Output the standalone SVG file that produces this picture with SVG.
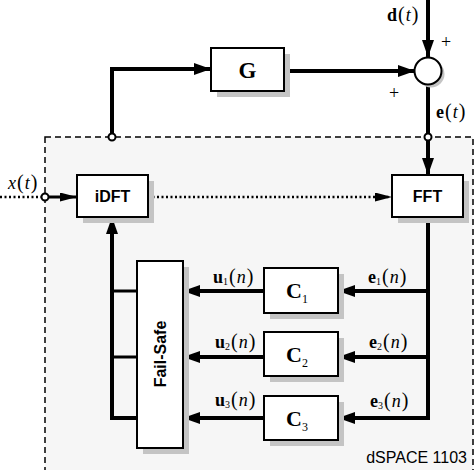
<svg xmlns="http://www.w3.org/2000/svg" width="474" height="470" viewBox="0 0 474 470">
<style>
.box{fill:#fff;stroke:#000;stroke-width:2}
.sh{fill:#c4c4c4}
.w{stroke:#000;stroke-width:4;fill:none}
.dot{stroke:#000;stroke-width:2.5;fill:none;stroke-dasharray:2,2.5}
.jn{fill:#fff;stroke:#000;stroke-width:2}
.m{font-family:"Liberation Serif",serif;font-size:18px}
.p{font-size:20px}
.b{font-weight:bold}
.i{font-style:italic}
.sub{font-size:10px}
.s{font-family:"Liberation Sans",Arial,sans-serif;font-weight:bold;font-size:16px}
</style>
<defs>
<marker id="a" viewBox="0 0 17 12" refX="17" refY="6" markerWidth="17" markerHeight="12" markerUnits="userSpaceOnUse" orient="auto"><path d="M0,0L17,6L0,12z" fill="#000"/></marker>
<marker id="t" viewBox="0 0 17 9" refX="17" refY="4.5" markerWidth="17" markerHeight="9" markerUnits="userSpaceOnUse" orient="auto"><path d="M0,0L17,4.5L0,9z" fill="#000"/></marker>
</defs>
<rect x="45" y="137" width="428" height="340" fill="#f6f6f6" stroke="#000" stroke-width="1.5" stroke-dasharray="6,4"/>
<g id="connectors">
<path class="w" d="M428,0V57" marker-end="url(#a)"/>
<path class="w" d="M284,71H415" marker-end="url(#a)"/>
<path class="w" d="M112,137V69H211" marker-end="url(#a)"/>
<path class="w" d="M428,84V175" marker-end="url(#a)"/>
<path class="dot" d="M0,197H45"/>
<path class="w" style="stroke-width:3" d="M48,197H77" marker-end="url(#t)"/>
<path class="dot" d="M148,197H392" marker-end="url(#t)"/>
<path class="w" d="M428,217V418H338" marker-end="url(#a)"/>
<path class="w" d="M428,291H338" marker-end="url(#a)"/>
<path class="w" d="M428,357H338" marker-end="url(#a)"/>
<path class="w" d="M264,291H183" marker-end="url(#a)"/>
<path class="w" d="M264,357H183" marker-end="url(#a)"/>
<path class="w" d="M264,418H183" marker-end="url(#a)"/>
<path class="w" d="M137,418H112V217" marker-end="url(#a)"/>
<path class="w" style="stroke-width:3" d="M112,291H137M112,357H137"/>
<circle class="jn" cx="112" cy="137" r="3.5"/>
<circle class="jn" cx="428" cy="137" r="3.5"/>
<circle class="jn" cx="45" cy="197" r="3.5"/>
</g>
<g id="G"><rect class="sh" x="217" y="54" width="73" height="43"/><rect class="box" x="211" y="48" width="73" height="43"/><text x="247.5" y="78" text-anchor="middle" font-family="Liberation Serif,serif" font-weight="bold" font-size="23">G</text></g>
<g id="sum"><circle class="sh" cx="431" cy="74" r="13.5"/><circle class="box" cx="428" cy="71" r="13.5"/></g>
<g id="iDFT"><rect class="sh" x="83" y="181" width="71" height="42"/><rect class="box" x="77" y="175" width="71" height="42"/><text class="s" x="112.5" y="202" text-anchor="middle">iDFT</text></g>
<g id="FFT"><rect class="sh" x="398" y="181" width="71" height="42"/><rect class="box" x="392" y="175" width="71" height="42"/><text class="s" x="427.5" y="202" text-anchor="middle">FFT</text></g>
<g id="failsafe"><rect class="sh" x="143" y="267" width="46" height="187"/><rect class="box" x="137" y="261" width="46" height="187"/><text class="s" transform="translate(166,354) rotate(-90)" text-anchor="middle">Fail-Safe</text></g>
<g id="C1"><rect class="sh" x="270" y="274" width="74" height="45"/><rect class="box" x="264" y="268" width="74" height="45"/><text x="297" y="298" text-anchor="middle" font-family="Liberation Serif,serif" font-weight="bold" font-size="22">C<tspan font-size="12" font-weight="normal" dy="5">1</tspan></text></g>
<g id="C2"><rect class="sh" x="270" y="338" width="74" height="44"/><rect class="box" x="264" y="332" width="74" height="44"/><text x="297" y="362" text-anchor="middle" font-family="Liberation Serif,serif" font-weight="bold" font-size="22">C<tspan font-size="12" font-weight="normal" dy="5">2</tspan></text></g>
<g id="C3"><rect class="sh" x="270" y="402" width="74" height="44"/><rect class="box" x="264" y="396" width="74" height="44"/><text x="297" y="426" text-anchor="middle" font-family="Liberation Serif,serif" font-weight="bold" font-size="22">C<tspan font-size="12" font-weight="normal" dy="5">3</tspan></text></g>
<g id="labels" class="m">
<text x="387" y="21"><tspan class="b">d</tspan><tspan class="p" dx="1">(</tspan><tspan class="i" dx="1">t</tspan><tspan class="p" dx="1">)</tspan></text>
<text x="436" y="118"><tspan class="b">e</tspan><tspan class="p" dx="1">(</tspan><tspan class="i" dx="1">t</tspan><tspan class="p" dx="1">)</tspan></text>
<text x="8" y="189"><tspan class="i">x</tspan><tspan class="p" dx="1">(</tspan><tspan class="i" dx="1">t</tspan><tspan class="p" dx="1">)</tspan></text>
<text x="441" y="48" font-size="18">+</text>
<text x="389" y="99" font-size="18">+</text>
<text x="213" y="283"><tspan class="b">u</tspan><tspan class="sub" dy="2">1</tspan><tspan class="p" dy="-2" dx="1">(</tspan><tspan class="i" dx="1">n</tspan><tspan class="p" dx="1">)</tspan></text>
<text x="368" y="283"><tspan class="b">e</tspan><tspan class="sub" dy="2">1</tspan><tspan class="p" dy="-2" dx="1">(</tspan><tspan class="i" dx="1">n</tspan><tspan class="p" dx="1">)</tspan></text>
<text x="215" y="348"><tspan class="b">u</tspan><tspan class="sub" dy="2">2</tspan><tspan class="p" dy="-2" dx="1">(</tspan><tspan class="i" dx="1">n</tspan><tspan class="p" dx="1">)</tspan></text>
<text x="369" y="348"><tspan class="b">e</tspan><tspan class="sub" dy="2">2</tspan><tspan class="p" dy="-2" dx="1">(</tspan><tspan class="i" dx="1">n</tspan><tspan class="p" dx="1">)</tspan></text>
<text x="215" y="406"><tspan class="b">u</tspan><tspan class="sub" dy="2">3</tspan><tspan class="p" dy="-2" dx="1">(</tspan><tspan class="i" dx="1">n</tspan><tspan class="p" dx="1">)</tspan></text>
<text x="370" y="407"><tspan class="b">e</tspan><tspan class="sub" dy="2">3</tspan><tspan class="p" dy="-2" dx="1">(</tspan><tspan class="i" dx="1">n</tspan><tspan class="p" dx="1">)</tspan></text>
</g>
<text x="467" y="463" text-anchor="end" font-family="Liberation Sans,Arial,sans-serif" font-size="16">dSPACE 1103</text>
</svg>
